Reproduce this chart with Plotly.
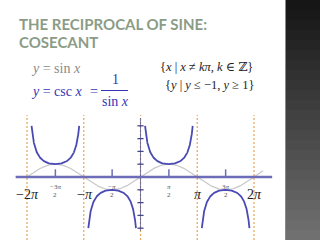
import numpy as np
import plotly.graph_objects as go

PI = np.pi
# ---- data ----
asymptotes_k = [-2, -1, 0, 1, 2]            # vertical asymptotes at k*pi
branch_starts_k = [-2, -1, 0, 1]            # csc branches on (k*pi, (k+1)*pi)
csc_clip = 4.0                              # drawn extent of branches
sine_range = [-2 * PI, 2.16 * PI]
half_ticks_k = [-3, -1, 1, 3]               # ticks at k*pi/2
y_ticks = [-4, -3, -2, -1, 1, 2, 3, 4]
big_labels = [(-2, "−2<i>π</i>"), (-1, "−<i>π</i>"), (1, "<i>π</i>"), (2, "2<i>π</i>")]
small_labels = [(-3, "−3<i>π</i>"), (-1, "−<i>π</i>"), (1, "<i>π</i>"), (3, "3<i>π</i>")]

W, H = 320, 240
px_pi = 56.75
x0_px = 140.5
y0_px = 177.0
px_unit = 12.8
xr = [-x0_px / px_pi * PI, (W - x0_px) / px_pi * PI]
yr = [-(H - y0_px) / px_unit, y0_px / px_unit]

def pxx(p):
    return p / W
def pxy(p):
    return 1 - p / H

fig = go.Figure()
BLUE = "#4a4ab4"
AXBLUE = "#6c6cb8"
ORANGE = "#e8ac62"

shapes = []
for k in asymptotes_k:
    shapes.append(dict(type="line", xref="x", yref="y", x0=k * PI, x1=k * PI,
                       y0=yr[0], y1=4.85, line=dict(color=ORANGE, width=1.3, dash="2px,2px")))
# y axis thin line
shapes.append(dict(type="line", xref="x", yref="y", x0=0, x1=0, y0=-4.2, y1=4.6,
                   line=dict(color="#5a5a8c", width=0.8)))
shapes.append(dict(type="line", xref="x", yref="y", x0=-2.2 * PI, x1=2.32 * PI, y0=0, y1=0,
                   line=dict(color=AXBLUE, width=2.5)))
for k in half_ticks_k:
    shapes.append(dict(type="line", xref="x", yref="y", x0=k * PI / 2, x1=k * PI / 2, y0=0, y1=0.6,
                       line=dict(color=AXBLUE, width=1.5)))
for t in y_ticks:
    shapes.append(dict(type="line", xref="x", yref="y", x0=-0.17, x1=0.17, y0=t, y1=t,
                       line=dict(color="#45458a", width=1.3)))

xs = np.linspace(sine_range[0], sine_range[1], 400)
fig.add_trace(go.Scatter(x=xs, y=np.sin(xs), mode="lines",
                         line=dict(color="#c8c8c8", width=1.2), hoverinfo="skip"))
for k in branch_starts_k:
    eps = np.arcsin(1 / csc_clip)
    xb = np.linspace(k * PI + eps, (k + 1) * PI - eps, 300)
    fig.add_trace(go.Scatter(x=xb, y=1 / np.sin(xb), mode="lines",
                             line=dict(color=BLUE, width=1.8), hoverinfo="skip"))

n = 24
c_top, c_bot = np.array([22, 22, 22]), np.array([112, 112, 112])
for i in range(n):
    c = (c_top + (c_bot - c_top) * i / (n - 1)).astype(int)
    shapes.append(dict(type="rect", xref="paper", yref="paper", layer="above",
                       x0=pxx(286), x1=1, y0=1 - (i + 1) / n, y1=1 - i / n,
                       line=dict(width=0), fillcolor="rgb(%d,%d,%d)" % tuple(c)))
shapes.append(dict(type="line", xref="paper", yref="paper", layer="above",
                   x0=pxx(285.5), x1=pxx(285.5), y0=0, y1=1, line=dict(color="#8a8a8a", width=1)))
shapes.append(dict(type="line", xref="paper", yref="paper",
                   x0=pxx(101), x1=pxx(128), y0=pxy(90.5), y1=pxy(90.5),
                   line=dict(color="#3535b5", width=1)))

ann = []
SERIF = "Liberation Serif, DejaVu Serif, serif"
for k, t in big_labels:
    ann.append(dict(x=k * PI + (0.06 if k in (-1, 1) else 0), y=-0.6, xref="x", yref="y", text=t,
                    showarrow=False, yanchor="top", font=dict(family=SERIF, size=14, color="#222")))
for k, t in small_labels:
    ann.append(dict(x=k * PI / 2, y=-0.35, xref="x", yref="y", text=t, showarrow=False,
                    yanchor="top", font=dict(family=SERIF, size=7, color="#555")))
    ann.append(dict(x=k * PI / 2, y=-0.95, xref="x", yref="y", text="2", showarrow=False,
                    yanchor="top", font=dict(family=SERIF, size=7, color="#555")))

def txt(x, y, s, size, color, xanchor="left", family=SERIF):
    ann.append(dict(x=pxx(x), y=pxy(y), xref="paper", yref="paper", text=s, showarrow=False,
                    xanchor=xanchor, yanchor="middle", font=dict(family=family, size=size, color=color)))

TITLE_C = "#8b9c86"
txt(17, 24, "<b>THE RECIPROCAL OF SINE:</b>", 15, TITLE_C, family="Lato")
txt(17, 42, "<b>COSECANT</b>", 15, TITLE_C, family="Lato")
txt(29, 68, "<i>y</i> = sin <i>x</i>", 14, "#8a8a8a")
txt(29, 91, "<i>y</i> = csc <i>x</i>", 14, "#3535b5")
txt(88, 91, "=", 14, "#3535b5")
txt(115, 80, "1", 14, "#3535b5", xanchor="center")
txt(115, 101, "sin <i>x</i>", 14, "#3535b5", xanchor="center")
txt(158, 67, "{<i>x</i> | <i>x</i> ≠ <i>kπ</i>, <i>k</i> ∈ ℤ}", 12.5, "#222")
txt(163, 85, "{<i>y</i> | <i>y</i> ≤ −1, <i>y</i> ≥ 1}", 12.5, "#222")

fig.update_layout(
    width=W, height=H, margin=dict(l=0, r=0, t=0, b=0),
    paper_bgcolor="white", plot_bgcolor="white", showlegend=False,
    xaxis=dict(range=xr, visible=False, fixedrange=True),
    yaxis=dict(range=yr, visible=False, fixedrange=True),
    shapes=shapes, annotations=ann,
)
fig.write_html("out.html", config={"displayModeBar": False})
